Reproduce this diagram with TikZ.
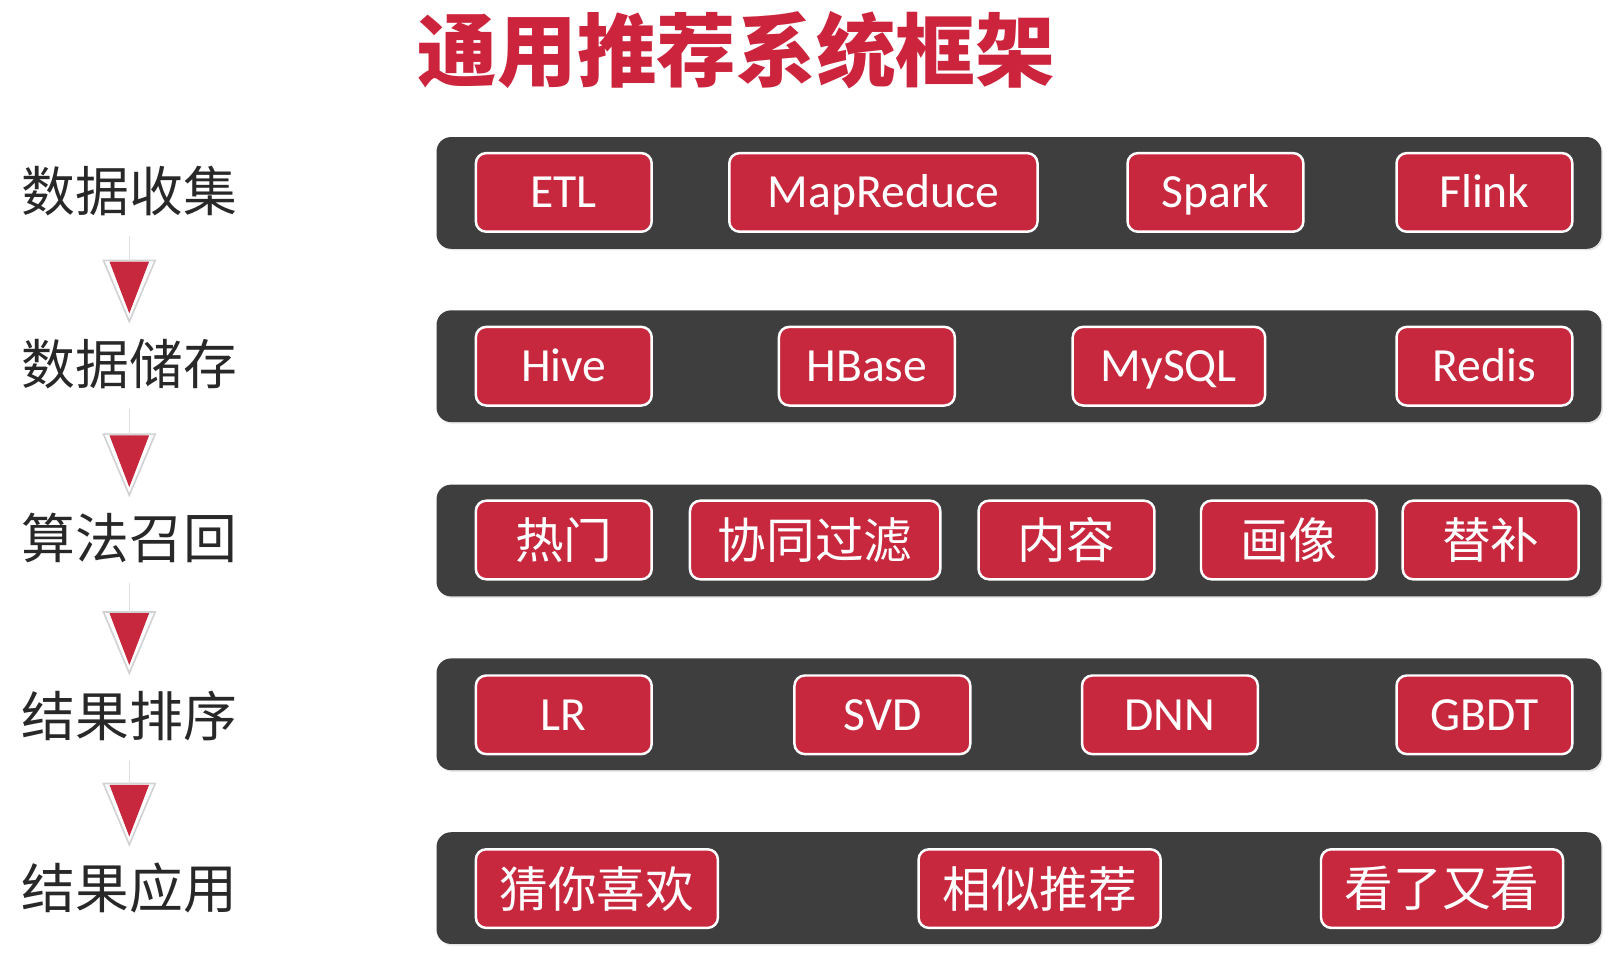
\documentclass[tikz,border=0pt]{standalone}
\usepackage{fontspec}
\newfontfamily\cjk{Noto Sans CJK SC}
\newfontfamily\latin{Carlito}
\usetikzlibrary{arrows.meta,shadows}
\definecolor{titlered}{RGB}{204,36,60}
\definecolor{toolred}{RGB}{200,40,62}
\definecolor{bardark}{RGB}{62,62,62}
\definecolor{stagegray}{RGB}{40,40,40}
\begin{document}
\begin{tikzpicture}[x=0.5pt,y=-0.5pt,font=\cjk,
  bar/.style={fill=bardark, rounded corners=7pt, minimum width=563pt, minimum height=54pt,
    drop shadow={opacity=0.2, shadow xshift=0.8pt, shadow yshift=-0.8pt}},
  tool/.style={fill=toolred, draw=white, line width=1.2pt, rounded corners=5pt,
    minimum width=85pt, minimum height=38pt, inner sep=0pt, text=white},
  en/.style={font=\latin\fontsize{23}{26}\selectfont, text height=18pt, text depth=3pt},
  zh/.style={font=\cjk\fontsize{23.5}{26}\selectfont},
  stage/.style={text=stagegray, font=\cjk\fontsize{26}{28}\selectfont},
  flow/.style={draw=gray!25, line width=0.5pt, shorten <=6pt, shorten >=9pt,
    -{Triangle[width=19pt,length=25pt,fill=toolred,color=toolred]},
    preaction={draw=white, shorten <=6pt, shorten >=4pt,
      -{Triangle[width=26pt,length=31pt,fill=white,color=gray!35,line width=0.8pt]}}}]
\useasboundingbox (0,0) rectangle (1568,928);
% 标题
\node[text=titlered, font=\cjk\bfseries\fontsize{38.5}{42}\selectfont] (title) at (712,48) {通用推荐系统框架};
% 左侧流程
\node[stage] (s1) at (125,185) {数据收集};
\node[stage] (s2) at (125,352) {数据储存};
\node[stage] (s3) at (125,520) {算法召回};
\node[stage] (s4) at (125,692) {结果排序};
\node[stage] (s5) at (125,858) {结果应用};
\draw[flow] (s1) -- (s2);
\draw[flow] (s2) -- (s3);
\draw[flow] (s3) -- (s4);
\draw[flow] (s4) -- (s5);
% 底板
\node[bar] (row1) at (985,186.5) {};
\node[bar] (row2) at (985,354) {};
\node[bar] (row3) at (985,522.5) {};
\node[bar] (row4) at (985,690.5) {};
\node[bar] (row5) at (985,858.5) {};
% 数据收集
\node[tool,en] (etl) at (545,186) {ETL};
\node[tool,en,minimum width=149pt] (mapreduce) at (854,186) {MapReduce};
\node[tool,en] (spark) at (1175,186) {Spark};
\node[tool,en] (flink) at (1435,186) {Flink};
% 数据储存
\node[tool,en] (hive) at (545,354) {Hive};
\node[tool,en] (hbase) at (838,354) {HBase};
\node[tool,en,minimum width=93pt] (mysql) at (1130,354) {MySQL};
\node[tool,en] (redis) at (1435,354) {Redis};
% 算法召回
\node[tool,zh] (hot) at (545,522) {热门};
\node[tool,zh,minimum width=121pt] (cf) at (788,522) {协同过滤};
\node[tool,zh] (content) at (1031,522) {内容};
\node[tool,zh] (profile) at (1246,522) {画像};
\node[tool,zh] (backup) at (1441,522) {替补};
% 结果排序
\node[tool,en] (lr) at (545,691) {LR};
\node[tool,en] (svd) at (853,691) {SVD};
\node[tool,en] (dnn) at (1131,691) {DNN};
\node[tool,en] (gbdt) at (1435,691) {GBDT};
% 结果应用
\node[tool,zh,minimum width=117pt] (guess) at (577,859) {猜你喜欢};
\node[tool,zh,minimum width=117pt] (similar) at (1005,859) {相似推荐};
\node[tool,zh,minimum width=117pt] (again) at (1394,859) {看了又看};
\end{tikzpicture}
\end{document}
